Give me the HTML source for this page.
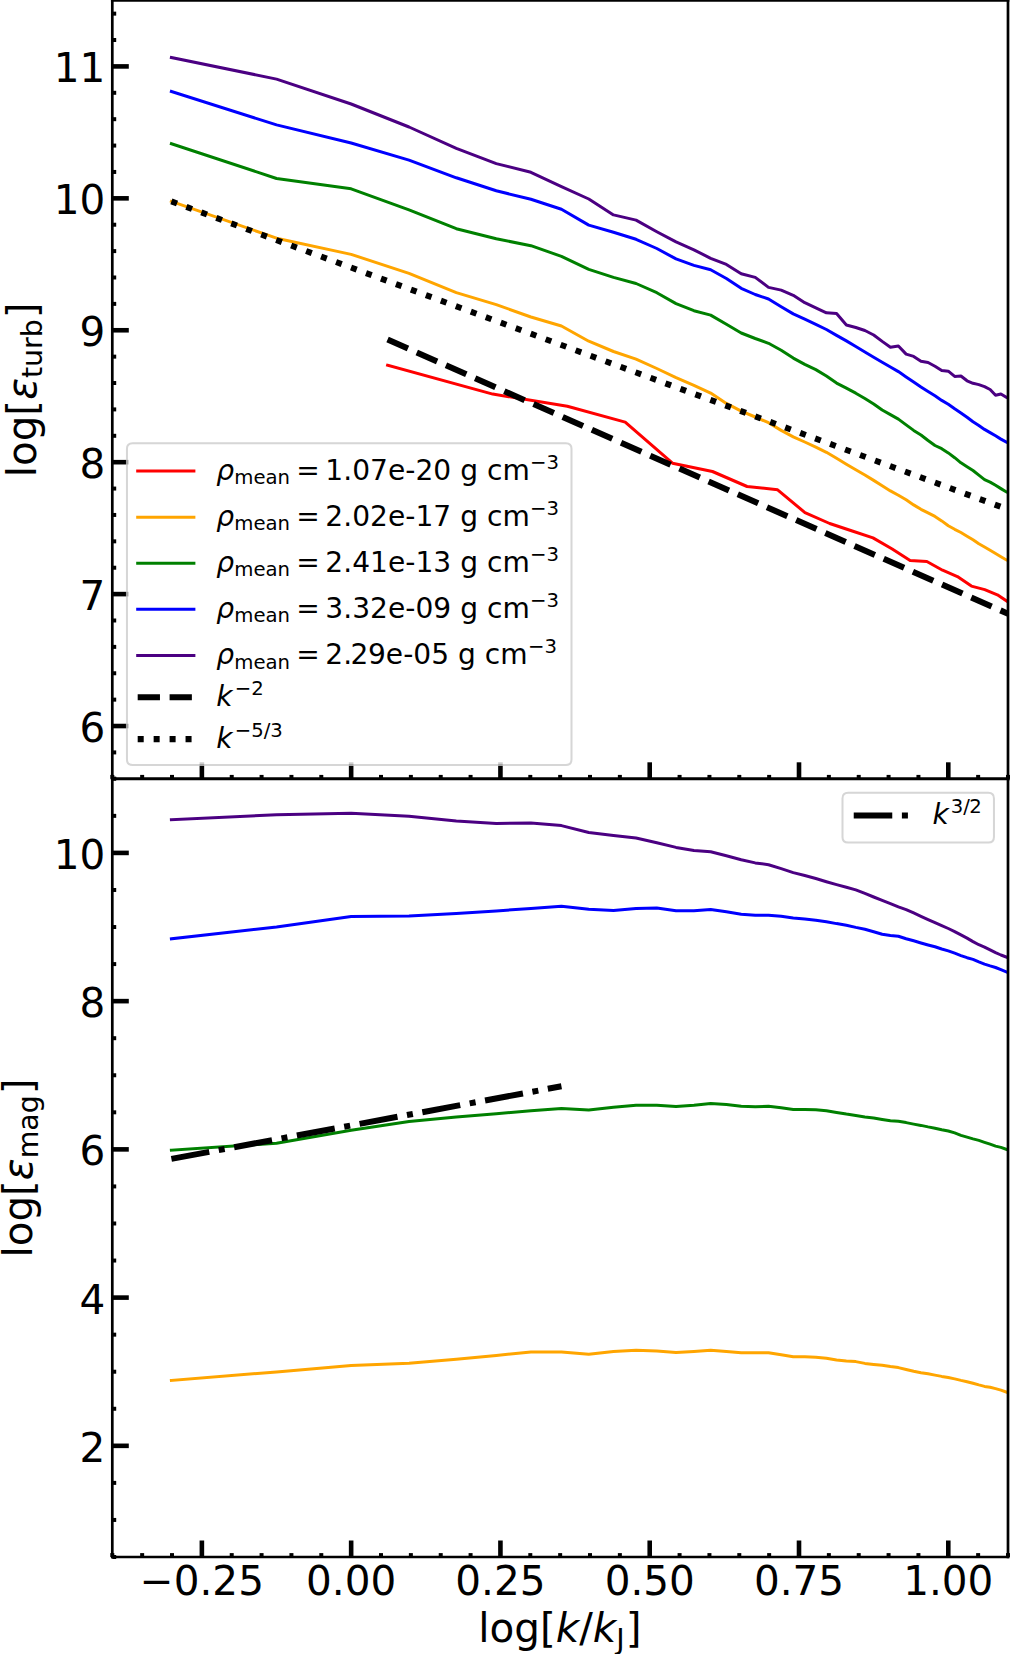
<!DOCTYPE html>
<html><head><meta charset="utf-8"><title>plot</title>
<style>html,body{margin:0;padding:0;background:#fff;width:1010px;height:1654px;overflow:hidden}svg{display:block}</style>
</head><body>
<svg width="1010" height="1654" viewBox="0 0 727.2 1190.88" version="1.1">
 <defs>
  <style type="text/css">*{stroke-linejoin: round; stroke-linecap: butt}</style>
 </defs>
 <g id="figure_1">
  <g id="patch_1">
   <path d="M 0 1190.88  L 727.2 1190.88  L 727.2 0  L 0 0  z " style="fill: #ffffff" />
  </g>
  <g id="axes_1">
   <g id="patch_2">
    <path d="M 80.856 560.736  L 725.76 560.736  L 725.76 0.324  L 80.856 0.324  z " style="fill: #ffffff" />
   </g>
   <g id="matplotlib.axis_1">
    <g id="xtick_1">
     <g id="line2d_1">
      <defs>
       <path id="mc1bbd99e53" d="M 0 0  L 0 -11.88  " style="stroke: #000000; stroke-width: 3.312" />
      </defs>
      <g>
       <use href="#mc1bbd99e53" x="145.3464" y="560.736" style="stroke: #000000; stroke-width: 3.312" />
      </g>
     </g>
    </g>
    <g id="xtick_2">
     <g id="line2d_2">
      <g>
       <use href="#mc1bbd99e53" x="252.8304" y="560.736" style="stroke: #000000; stroke-width: 3.312" />
      </g>
     </g>
    </g>
    <g id="xtick_3">
     <g id="line2d_3">
      <g>
       <use href="#mc1bbd99e53" x="360.3144" y="560.736" style="stroke: #000000; stroke-width: 3.312" />
      </g>
     </g>
    </g>
    <g id="xtick_4">
     <g id="line2d_4">
      <g>
       <use href="#mc1bbd99e53" x="467.7984" y="560.736" style="stroke: #000000; stroke-width: 3.312" />
      </g>
     </g>
    </g>
    <g id="xtick_5">
     <g id="line2d_5">
      <g>
       <use href="#mc1bbd99e53" x="575.2824" y="560.736" style="stroke: #000000; stroke-width: 3.312" />
      </g>
     </g>
    </g>
    <g id="xtick_6">
     <g id="line2d_6">
      <g>
       <use href="#mc1bbd99e53" x="682.7664" y="560.736" style="stroke: #000000; stroke-width: 3.312" />
      </g>
     </g>
    </g>
    <g id="xtick_7">
     <g id="line2d_7">
      <defs>
       <path id="m98e27bdabb" d="M 0 0  L 0 -2.808  " style="stroke: #000000; stroke-width: 2.88" />
      </defs>
      <g>
       <use href="#m98e27bdabb" x="80.856" y="560.736" style="stroke: #000000; stroke-width: 2.88" />
      </g>
     </g>
    </g>
    <g id="xtick_8">
     <g id="line2d_8">
      <g>
       <use href="#m98e27bdabb" x="102.3528" y="560.736" style="stroke: #000000; stroke-width: 2.88" />
      </g>
     </g>
    </g>
    <g id="xtick_9">
     <g id="line2d_9">
      <g>
       <use href="#m98e27bdabb" x="123.8496" y="560.736" style="stroke: #000000; stroke-width: 2.88" />
      </g>
     </g>
    </g>
    <g id="xtick_10">
     <g id="line2d_10">
      <g>
       <use href="#m98e27bdabb" x="166.8432" y="560.736" style="stroke: #000000; stroke-width: 2.88" />
      </g>
     </g>
    </g>
    <g id="xtick_11">
     <g id="line2d_11">
      <g>
       <use href="#m98e27bdabb" x="188.34" y="560.736" style="stroke: #000000; stroke-width: 2.88" />
      </g>
     </g>
    </g>
    <g id="xtick_12">
     <g id="line2d_12">
      <g>
       <use href="#m98e27bdabb" x="209.8368" y="560.736" style="stroke: #000000; stroke-width: 2.88" />
      </g>
     </g>
    </g>
    <g id="xtick_13">
     <g id="line2d_13">
      <g>
       <use href="#m98e27bdabb" x="231.3336" y="560.736" style="stroke: #000000; stroke-width: 2.88" />
      </g>
     </g>
    </g>
    <g id="xtick_14">
     <g id="line2d_14">
      <g>
       <use href="#m98e27bdabb" x="274.3272" y="560.736" style="stroke: #000000; stroke-width: 2.88" />
      </g>
     </g>
    </g>
    <g id="xtick_15">
     <g id="line2d_15">
      <g>
       <use href="#m98e27bdabb" x="295.824" y="560.736" style="stroke: #000000; stroke-width: 2.88" />
      </g>
     </g>
    </g>
    <g id="xtick_16">
     <g id="line2d_16">
      <g>
       <use href="#m98e27bdabb" x="317.3208" y="560.736" style="stroke: #000000; stroke-width: 2.88" />
      </g>
     </g>
    </g>
    <g id="xtick_17">
     <g id="line2d_17">
      <g>
       <use href="#m98e27bdabb" x="338.8176" y="560.736" style="stroke: #000000; stroke-width: 2.88" />
      </g>
     </g>
    </g>
    <g id="xtick_18">
     <g id="line2d_18">
      <g>
       <use href="#m98e27bdabb" x="381.8112" y="560.736" style="stroke: #000000; stroke-width: 2.88" />
      </g>
     </g>
    </g>
    <g id="xtick_19">
     <g id="line2d_19">
      <g>
       <use href="#m98e27bdabb" x="403.308" y="560.736" style="stroke: #000000; stroke-width: 2.88" />
      </g>
     </g>
    </g>
    <g id="xtick_20">
     <g id="line2d_20">
      <g>
       <use href="#m98e27bdabb" x="424.8048" y="560.736" style="stroke: #000000; stroke-width: 2.88" />
      </g>
     </g>
    </g>
    <g id="xtick_21">
     <g id="line2d_21">
      <g>
       <use href="#m98e27bdabb" x="446.3016" y="560.736" style="stroke: #000000; stroke-width: 2.88" />
      </g>
     </g>
    </g>
    <g id="xtick_22">
     <g id="line2d_22">
      <g>
       <use href="#m98e27bdabb" x="489.2952" y="560.736" style="stroke: #000000; stroke-width: 2.88" />
      </g>
     </g>
    </g>
    <g id="xtick_23">
     <g id="line2d_23">
      <g>
       <use href="#m98e27bdabb" x="510.792" y="560.736" style="stroke: #000000; stroke-width: 2.88" />
      </g>
     </g>
    </g>
    <g id="xtick_24">
     <g id="line2d_24">
      <g>
       <use href="#m98e27bdabb" x="532.2888" y="560.736" style="stroke: #000000; stroke-width: 2.88" />
      </g>
     </g>
    </g>
    <g id="xtick_25">
     <g id="line2d_25">
      <g>
       <use href="#m98e27bdabb" x="553.7856" y="560.736" style="stroke: #000000; stroke-width: 2.88" />
      </g>
     </g>
    </g>
    <g id="xtick_26">
     <g id="line2d_26">
      <g>
       <use href="#m98e27bdabb" x="596.7792" y="560.736" style="stroke: #000000; stroke-width: 2.88" />
      </g>
     </g>
    </g>
    <g id="xtick_27">
     <g id="line2d_27">
      <g>
       <use href="#m98e27bdabb" x="618.276" y="560.736" style="stroke: #000000; stroke-width: 2.88" />
      </g>
     </g>
    </g>
    <g id="xtick_28">
     <g id="line2d_28">
      <g>
       <use href="#m98e27bdabb" x="639.7728" y="560.736" style="stroke: #000000; stroke-width: 2.88" />
      </g>
     </g>
    </g>
    <g id="xtick_29">
     <g id="line2d_29">
      <g>
       <use href="#m98e27bdabb" x="661.2696" y="560.736" style="stroke: #000000; stroke-width: 2.88" />
      </g>
     </g>
    </g>
    <g id="xtick_30">
     <g id="line2d_30">
      <g>
       <use href="#m98e27bdabb" x="704.2632" y="560.736" style="stroke: #000000; stroke-width: 2.88" />
      </g>
     </g>
    </g>
    <g id="xtick_31">
     <g id="line2d_31">
      <g>
       <use href="#m98e27bdabb" x="725.76" y="560.736" style="stroke: #000000; stroke-width: 2.88" />
      </g>
     </g>
    </g>
   </g>
   <g id="matplotlib.axis_2">
    <g id="ytick_1">
     <g id="line2d_32">
      <defs>
       <path id="m654e0ca924" d="M 0 0  L 11.88 0  " style="stroke: #000000; stroke-width: 3.312" />
      </defs>
      <g>
       <use href="#m654e0ca924" x="80.856" y="522.741966" style="stroke: #000000; stroke-width: 3.312" />
      </g>
     </g>
     <g id="text_1" transform="translate(0 0.504)">
      <text style="font-size: 29.16px; font-family: 'DejaVu Sans', sans-serif; text-anchor: end" x="75.816" y="533.820488" transform="rotate(-0 75.816 533.820488)">6</text>
     </g>
    </g>
    <g id="ytick_2">
     <g id="line2d_33">
      <g>
       <use href="#m654e0ca924" x="80.856" y="427.756881" style="stroke: #000000; stroke-width: 3.312" />
      </g>
     </g>
     <g id="text_2" transform="translate(0 0.504)">
      <text style="font-size: 29.16px; font-family: 'DejaVu Sans', sans-serif; text-anchor: end" x="75.816" y="438.835403" transform="rotate(-0 75.816 438.835403)">7</text>
     </g>
    </g>
    <g id="ytick_3">
     <g id="line2d_34">
      <g>
       <use href="#m654e0ca924" x="80.856" y="332.771797" style="stroke: #000000; stroke-width: 3.312" />
      </g>
     </g>
     <g id="text_3" transform="translate(0 0.504)">
      <text style="font-size: 29.16px; font-family: 'DejaVu Sans', sans-serif; text-anchor: end" x="75.816" y="343.850318" transform="rotate(-0 75.816 343.850318)">8</text>
     </g>
    </g>
    <g id="ytick_4">
     <g id="line2d_35">
      <g>
       <use href="#m654e0ca924" x="80.856" y="237.786712" style="stroke: #000000; stroke-width: 3.312" />
      </g>
     </g>
     <g id="text_4" transform="translate(0 0.504)">
      <text style="font-size: 29.16px; font-family: 'DejaVu Sans', sans-serif; text-anchor: end" x="75.816" y="248.865234" transform="rotate(-0 75.816 248.865234)">9</text>
     </g>
    </g>
    <g id="ytick_5">
     <g id="line2d_36">
      <g>
       <use href="#m654e0ca924" x="80.856" y="142.801627" style="stroke: #000000; stroke-width: 3.312" />
      </g>
     </g>
     <g id="text_5" transform="translate(0 0.504)">
      <text style="font-size: 29.16px; font-family: 'DejaVu Sans', sans-serif; text-anchor: end" x="75.816" y="153.880149" transform="rotate(-0 75.816 153.880149)">10</text>
     </g>
    </g>
    <g id="ytick_6">
     <g id="line2d_37">
      <g>
       <use href="#m654e0ca924" x="80.856" y="47.816542" style="stroke: #000000; stroke-width: 3.312" />
      </g>
     </g>
     <g id="text_6" transform="translate(0 0.504)">
      <text style="font-size: 29.16px; font-family: 'DejaVu Sans', sans-serif; text-anchor: end" x="75.816" y="58.895064" transform="rotate(-0 75.816 58.895064)">11</text>
     </g>
    </g>
    <g id="ytick_7">
     <g id="line2d_38">
      <defs>
       <path id="m2baaccd107" d="M 0 0  L 2.808 0  " style="stroke: #000000; stroke-width: 2.88" />
      </defs>
      <g>
       <use href="#m2baaccd107" x="80.856" y="560.736" style="stroke: #000000; stroke-width: 2.88" />
      </g>
     </g>
    </g>
    <g id="ytick_8">
     <g id="line2d_39">
      <g>
       <use href="#m2baaccd107" x="80.856" y="541.738983" style="stroke: #000000; stroke-width: 2.88" />
      </g>
     </g>
    </g>
    <g id="ytick_9">
     <g id="line2d_40">
      <g>
       <use href="#m2baaccd107" x="80.856" y="503.744949" style="stroke: #000000; stroke-width: 2.88" />
      </g>
     </g>
    </g>
    <g id="ytick_10">
     <g id="line2d_41">
      <g>
       <use href="#m2baaccd107" x="80.856" y="484.747932" style="stroke: #000000; stroke-width: 2.88" />
      </g>
     </g>
    </g>
    <g id="ytick_11">
     <g id="line2d_42">
      <g>
       <use href="#m2baaccd107" x="80.856" y="465.750915" style="stroke: #000000; stroke-width: 2.88" />
      </g>
     </g>
    </g>
    <g id="ytick_12">
     <g id="line2d_43">
      <g>
       <use href="#m2baaccd107" x="80.856" y="446.753898" style="stroke: #000000; stroke-width: 2.88" />
      </g>
     </g>
    </g>
    <g id="ytick_13">
     <g id="line2d_44">
      <g>
       <use href="#m2baaccd107" x="80.856" y="408.759864" style="stroke: #000000; stroke-width: 2.88" />
      </g>
     </g>
    </g>
    <g id="ytick_14">
     <g id="line2d_45">
      <g>
       <use href="#m2baaccd107" x="80.856" y="389.762847" style="stroke: #000000; stroke-width: 2.88" />
      </g>
     </g>
    </g>
    <g id="ytick_15">
     <g id="line2d_46">
      <g>
       <use href="#m2baaccd107" x="80.856" y="370.765831" style="stroke: #000000; stroke-width: 2.88" />
      </g>
     </g>
    </g>
    <g id="ytick_16">
     <g id="line2d_47">
      <g>
       <use href="#m2baaccd107" x="80.856" y="351.768814" style="stroke: #000000; stroke-width: 2.88" />
      </g>
     </g>
    </g>
    <g id="ytick_17">
     <g id="line2d_48">
      <g>
       <use href="#m2baaccd107" x="80.856" y="313.77478" style="stroke: #000000; stroke-width: 2.88" />
      </g>
     </g>
    </g>
    <g id="ytick_18">
     <g id="line2d_49">
      <g>
       <use href="#m2baaccd107" x="80.856" y="294.777763" style="stroke: #000000; stroke-width: 2.88" />
      </g>
     </g>
    </g>
    <g id="ytick_19">
     <g id="line2d_50">
      <g>
       <use href="#m2baaccd107" x="80.856" y="275.780746" style="stroke: #000000; stroke-width: 2.88" />
      </g>
     </g>
    </g>
    <g id="ytick_20">
     <g id="line2d_51">
      <g>
       <use href="#m2baaccd107" x="80.856" y="256.783729" style="stroke: #000000; stroke-width: 2.88" />
      </g>
     </g>
    </g>
    <g id="ytick_21">
     <g id="line2d_52">
      <g>
       <use href="#m2baaccd107" x="80.856" y="218.789695" style="stroke: #000000; stroke-width: 2.88" />
      </g>
     </g>
    </g>
    <g id="ytick_22">
     <g id="line2d_53">
      <g>
       <use href="#m2baaccd107" x="80.856" y="199.792678" style="stroke: #000000; stroke-width: 2.88" />
      </g>
     </g>
    </g>
    <g id="ytick_23">
     <g id="line2d_54">
      <g>
       <use href="#m2baaccd107" x="80.856" y="180.795661" style="stroke: #000000; stroke-width: 2.88" />
      </g>
     </g>
    </g>
    <g id="ytick_24">
     <g id="line2d_55">
      <g>
       <use href="#m2baaccd107" x="80.856" y="161.798644" style="stroke: #000000; stroke-width: 2.88" />
      </g>
     </g>
    </g>
    <g id="ytick_25">
     <g id="line2d_56">
      <g>
       <use href="#m2baaccd107" x="80.856" y="123.80461" style="stroke: #000000; stroke-width: 2.88" />
      </g>
     </g>
    </g>
    <g id="ytick_26">
     <g id="line2d_57">
      <g>
       <use href="#m2baaccd107" x="80.856" y="104.807593" style="stroke: #000000; stroke-width: 2.88" />
      </g>
     </g>
    </g>
    <g id="ytick_27">
     <g id="line2d_58">
      <g>
       <use href="#m2baaccd107" x="80.856" y="85.810576" style="stroke: #000000; stroke-width: 2.88" />
      </g>
     </g>
    </g>
    <g id="ytick_28">
     <g id="line2d_59">
      <g>
       <use href="#m2baaccd107" x="80.856" y="66.813559" style="stroke: #000000; stroke-width: 2.88" />
      </g>
     </g>
    </g>
    <g id="ytick_29">
     <g id="line2d_60">
      <g>
       <use href="#m2baaccd107" x="80.856" y="28.819525" style="stroke: #000000; stroke-width: 2.88" />
      </g>
     </g>
    </g>
    <g id="ytick_30">
     <g id="line2d_61">
      <g>
       <use href="#m2baaccd107" x="80.856" y="9.822508" style="stroke: #000000; stroke-width: 2.88" />
      </g>
     </g>
    </g>
    <g id="text_7">
     
     <g transform="translate(26.5703 343.6614) rotate(-90)">
      <text><tspan x="0 8.092 25.911 44.399" y="-0.96875" style="font-size: 29.16px; font-family: 'DejaVu Sans', sans-serif">log[</tspan><tspan x="55.761" y="-0.96875" style="font-style: oblique; font-size: 29.16px; font-family: 'DejaVu Sans', sans-serif">ε</tspan><tspan x="71.504 79.498 92.419 100.801" y="3.789062" style="font-size: 20.412px; font-family: 'DejaVu Sans', sans-serif">turb</tspan><tspan x="114.535" y="-0.96875" style="font-size: 29.16px; font-family: 'DejaVu Sans', sans-serif">]</tspan></text>
     </g>
    </g>
   </g>
   <g id="line2d_62">
    <path d="M 279.056496 263.016  L 354.764468 283.752  L 408.480128 292.536  L 450.145232 303.912  L 484.1881 333.504  L 512.970935 339.48  L 537.90376 350.28  L 559.896071 352.656  L 579.568864 369.072  L 597.365069 376.92  L 613.611732 382.32  L 628.557213 387.288  L 642.394567 395.28  L 655.276835 403.488  L 667.327393 404.28  L 678.647151 410.544  L 689.319704 415.152  L 699.415072 421.992  L 708.992496 424.512  L 718.102538 428.256  L 726.788701 434.016  " clip-path="url(#p21c966a8d2)" style="fill: none; stroke: #ff0000; stroke-width: 2.16; stroke-linecap: square" />
   </g>
   <g id="line2d_63">
    <path d="M 123.406768 145.008  L 199.114739 171.504  L 252.8304 183.168  L 294.495503 196.848  L 328.538372 210.672  L 357.321206 219.312  L 382.254032 228.24  L 404.246343 234.72  L 423.919136 245.664  L 441.715341 253.08  L 457.962004 258.552  L 472.907485 265.32  L 486.744839 271.872  L 499.627107 277.416  L 511.677664 283.032  L 522.997423 290.448  L 533.669975 295.992  L 543.765344 300.24  L 553.342768 304.344  L 562.45281 309.888  L 571.138973 314.496  L 579.438954 318.24  L 587.385636 321.912  L 595.007871 325.656  L 602.331117 329.976  L 609.377947 334.224  L 616.168471 338.184  L 622.720681 342  L 629.050739 345.888  L 635.173217 349.704  L 641.101297 353.448  L 646.846945 356.544  L 652.421055 359.856  L 657.833574 363.528  L 663.093608 366.696  L 668.209512 369.288  L 673.188976 371.808  L 678.039088 375.048  L 682.7664 378.504  L 687.376976 381.096  L 691.876442 383.4  L 696.270029 386.064  L 700.562605 388.656  L 704.758711 391.536  L 708.862587 393.84  L 712.8782 396.216  L 716.809268 398.52  L 720.659277 400.824  L 724.431503 403.056  " clip-path="url(#p21c966a8d2)" style="fill: none; stroke: #ffa500; stroke-width: 2.16; stroke-linecap: square" />
   </g>
   <g id="line2d_64">
    <path d="M 123.406768 103.464  L 199.114739 128.52  L 252.8304 135.936  L 294.495503 151.056  L 328.538372 164.664  L 357.321206 171.936  L 382.254032 176.904  L 404.246343 184.536  L 423.919136 193.968  L 441.715341 199.728  L 457.962004 204.12  L 472.907485 210.744  L 486.744839 218.592  L 499.627107 223.704  L 511.677664 226.872  L 522.997423 233.496  L 533.669975 239.76  L 543.765344 243.72  L 553.342768 247.176  L 562.45281 252.216  L 571.138973 257.832  L 579.438954 262.368  L 587.385636 266.112  L 595.007871 270.72  L 602.331117 275.832  L 609.377947 279.504  L 616.168471 283.104  L 622.720681 286.92  L 629.050739 290.88  L 635.173217 295.2  L 641.101297 298.512  L 646.846945 301.752  L 652.421055 305.928  L 657.833574 309.888  L 663.093608 313.2  L 668.209512 317.16  L 673.188976 320.76  L 678.039088 323.064  L 682.7664 326.088  L 687.376976 329.544  L 691.876442 333.216  L 696.270029 336.024  L 700.562605 338.76  L 704.758711 342.072  L 708.862587 345.312  L 712.8782 347.112  L 716.809268 349.416  L 720.659277 351.792  L 724.431503 354.096  " clip-path="url(#p21c966a8d2)" style="fill: none; stroke: #008000; stroke-width: 2.16; stroke-linecap: square" />
   </g>
   <g id="line2d_65">
    <path d="M 123.406768 65.88  L 199.114739 89.928  L 252.8304 102.96  L 294.495503 115.272  L 328.538372 128.016  L 357.321206 137.376  L 382.254032 143.496  L 404.246343 150.624  L 423.919136 162.072  L 441.715341 167.256  L 457.962004 172.296  L 472.907485 178.92  L 486.744839 186.408  L 499.627107 191.088  L 511.677664 194.256  L 522.997423 200.52  L 533.669975 207.576  L 543.765344 212.04  L 553.342768 215.28  L 562.45281 220.824  L 571.138973 226.008  L 579.438954 229.752  L 587.385636 233.496  L 595.007871 237.24  L 602.331117 241.488  L 609.377947 245.448  L 616.168471 249.48  L 622.720681 253.44  L 629.050739 257.256  L 635.173217 260.856  L 641.101297 264.24  L 646.846945 267.552  L 652.421055 271.368  L 657.833574 275.04  L 663.093608 278.64  L 668.209512 281.88  L 673.188976 284.976  L 678.039088 288.288  L 682.7664 291.096  L 687.376976 294.336  L 691.876442 297.288  L 696.270029 300.384  L 700.562605 303.624  L 704.758711 306.36  L 708.862587 309.168  L 712.8782 311.472  L 716.809268 313.776  L 720.659277 316.152  L 724.431503 318.24  " clip-path="url(#p21c966a8d2)" style="fill: none; stroke: #0000ff; stroke-width: 2.16; stroke-linecap: square" />
   </g>
   <g id="line2d_66">
    <path d="M 123.406768 41.4  L 199.114739 56.952  L 252.8304 74.88  L 294.495503 91.44  L 328.538372 106.848  L 357.321206 117.792  L 382.254032 124.056  L 404.246343 134.352  L 423.919136 143.28  L 441.715341 154.728  L 457.962004 158.472  L 472.907485 166.824  L 486.744839 174.168  L 499.627107 179.856  L 511.677664 185.976  L 522.997423 190.368  L 533.669975 197.064  L 543.765344 199.728  L 553.342768 206.928  L 562.45281 208.872  L 571.138973 212.616  L 579.438954 217.944  L 587.385636 221.688  L 595.007871 225.216  L 602.331117 225.792  L 609.377947 234  L 616.168471 235.8  L 622.720681 237.96  L 629.050739 241.2  L 635.173217 245.808  L 641.101297 250.056  L 646.846945 249.12  L 652.421055 254.952  L 657.833574 256.608  L 663.093608 260.064  L 668.209512 261  L 673.188976 263.736  L 678.039088 266.832  L 682.7664 267.264  L 687.376976 271.008  L 691.876442 270.72  L 696.270029 274.176  L 700.562605 275.976  L 704.758711 276.912  L 708.862587 278.424  L 712.8782 280.44  L 716.809268 284.616  L 720.659277 283.68  L 724.431503 285.984  " clip-path="url(#p21c966a8d2)" style="fill: none; stroke: #4b0082; stroke-width: 2.16; stroke-linecap: square" />
   </g>
   <g id="line2d_67">
    <path d="M 279.056496 244.493908  L 728.2 442.951045  " clip-path="url(#p21c966a8d2)" style="fill: none; stroke-dasharray: 16.03728,6.93504; stroke-dashoffset: 0; stroke: #000000; stroke-width: 4.3344" />
   </g>
   <g id="line2d_68">
    <path d="M 123.406768 145.008  L 728.2 367.701364  " clip-path="url(#p21c966a8d2)" style="fill: none; stroke-dasharray: 4.3344,7.15176; stroke-dashoffset: 0; stroke: #000000; stroke-width: 4.3344" />
   </g>
   <g id="patch_3">
    <path d="M 80.856 560.736  L 80.856 0.324  " style="fill: none; stroke: #000000; stroke-width: 1.944; stroke-linejoin: miter; stroke-linecap: square" />
   </g>
   <g id="patch_4">
    <path d="M 725.76 560.736  L 725.76 0.324  " style="fill: none; stroke: #000000; stroke-width: 1.944; stroke-linejoin: miter; stroke-linecap: square" />
   </g>
   <g id="patch_5">
    <path d="M 80.856 560.736  L 725.76 560.736  " style="fill: none; stroke: #000000; stroke-width: 1.944; stroke-linejoin: miter; stroke-linecap: square" />
   </g>
   <g id="patch_6">
    <path d="M 80.856 0.324  L 725.76 0.324  " style="fill: none; stroke: #000000; stroke-width: 1.944; stroke-linejoin: miter; stroke-linecap: square" />
   </g>
   <g id="legend_1">
    <g id="patch_7">
     <path d="M 95.4504 550.836  L 407.42784 550.836  Q 411.47424 550.836 411.47424 546.7896  L 411.47424 323.112195  Q 411.47424 319.065795 407.42784 319.065795  L 95.4504 319.065795  Q 91.404 319.065795 91.404 323.112195  L 91.404 546.7896  Q 91.404 550.836 95.4504 550.836  z " style="fill: #ffffff; opacity: 0.8; stroke: #cccccc; stroke-width: 1.44; stroke-linejoin: miter" />
    </g>
    <g transform="translate(-0.360 0.720)"><g id="line2d_69">
     <path d="M 99.4968 338.488515  L 119.7288 338.488515  L 139.9608 338.488515  " style="fill: none; stroke: #ff0000; stroke-width: 2.16; stroke-linecap: square" />
    </g>
    <g id="text_8">
     
     <g transform="translate(156.1464 345.569715)">
      <text><tspan x="0" y="-0.953125" style="font-style: oblique; font-size: 20.232px; font-family: 'DejaVu Sans', sans-serif">ρ</tspan><tspan x="12.854 26.662 35.383 44.069" y="2.328125" style="font-size: 14.1624px; font-family: 'DejaVu Sans', sans-serif">mean</tspan><tspan x="57.545 78.458 91.342 97.779 110.662 123.546 136.004 143.311 156.195 169.079 175.516 188.37 194.806 205.94" y="-0.953125" style="font-size: 20.232px; font-family: 'DejaVu Sans', sans-serif">=1.07e-20 g cm</tspan><tspan x="225.857 237.734" y="-8.609375" style="font-size: 14.1624px; font-family: 'DejaVu Sans', sans-serif">−3</tspan></text>
     </g>
    </g>
    <g id="line2d_70">
     <path d="M 99.4968 371.668995  L 119.7288 371.668995  L 139.9608 371.668995  " style="fill: none; stroke: #ffa500; stroke-width: 2.16; stroke-linecap: square" />
    </g>
    <g id="text_9">
     
     <g transform="translate(156.1464 378.750195)">
      <text><tspan x="0" y="-0.953125" style="font-style: oblique; font-size: 20.232px; font-family: 'DejaVu Sans', sans-serif">ρ</tspan><tspan x="12.854 26.662 35.383 44.069" y="2.328125" style="font-size: 14.1624px; font-family: 'DejaVu Sans', sans-serif">mean</tspan><tspan x="57.545 78.458 91.342 97.779 110.662 123.546 136.004 143.311 156.195 169.079 175.516 188.37 194.806 205.94" y="-0.953125" style="font-size: 20.232px; font-family: 'DejaVu Sans', sans-serif">=2.02e-17 g cm</tspan><tspan x="225.857 237.734" y="-8.609375" style="font-size: 14.1624px; font-family: 'DejaVu Sans', sans-serif">−3</tspan></text>
     </g>
    </g>
    <g id="line2d_71">
     <path d="M 99.4968 404.849475  L 119.7288 404.849475  L 139.9608 404.849475  " style="fill: none; stroke: #008000; stroke-width: 2.16; stroke-linecap: square" />
    </g>
    <g id="text_10">
     
     <g transform="translate(156.1464 411.930675)">
      <text><tspan x="0" y="-0.953125" style="font-style: oblique; font-size: 20.232px; font-family: 'DejaVu Sans', sans-serif">ρ</tspan><tspan x="12.854 26.662 35.383 44.069" y="2.328125" style="font-size: 14.1624px; font-family: 'DejaVu Sans', sans-serif">mean</tspan><tspan x="57.545 78.458 91.342 97.779 110.662 123.546 136.004 143.311 156.195 169.079 175.516 188.37 194.806 205.94" y="-0.953125" style="font-size: 20.232px; font-family: 'DejaVu Sans', sans-serif">=2.41e-13 g cm</tspan><tspan x="225.857 237.734" y="-8.609375" style="font-size: 14.1624px; font-family: 'DejaVu Sans', sans-serif">−3</tspan></text>
     </g>
    </g>
    <g id="line2d_72">
     <path d="M 99.4968 438.029955  L 119.7288 438.029955  L 139.9608 438.029955  " style="fill: none; stroke: #0000ff; stroke-width: 2.16; stroke-linecap: square" />
    </g>
    <g id="text_11">
     
     <g transform="translate(156.1464 445.111155)">
      <text><tspan x="0" y="-0.953125" style="font-style: oblique; font-size: 20.232px; font-family: 'DejaVu Sans', sans-serif">ρ</tspan><tspan x="12.854 26.662 35.383 44.069" y="2.328125" style="font-size: 14.1624px; font-family: 'DejaVu Sans', sans-serif">mean</tspan><tspan x="57.545 78.458 91.342 97.779 110.662 123.546 136.004 143.311 156.195 169.079 175.516 188.37 194.806 205.94" y="-0.953125" style="font-size: 20.232px; font-family: 'DejaVu Sans', sans-serif">=3.32e-09 g cm</tspan><tspan x="225.857 237.734" y="-8.609375" style="font-size: 14.1624px; font-family: 'DejaVu Sans', sans-serif">−3</tspan></text>
     </g>
    </g>
    <g id="line2d_73">
     <path d="M 99.4968 471.210435  L 119.7288 471.210435  L 139.9608 471.210435  " style="fill: none; stroke: #4b0082; stroke-width: 2.16; stroke-linecap: square" />
    </g>
    <g id="text_12">
     
     <g transform="translate(156.1464 478.291635)">
      <text><tspan x="0" y="-0.953125" style="font-style: oblique; font-size: 20.232px; font-family: 'DejaVu Sans', sans-serif">ρ</tspan><tspan x="12.854 26.662 35.383 44.069" y="2.328125" style="font-size: 14.1624px; font-family: 'DejaVu Sans', sans-serif">mean</tspan><tspan x="57.545 78.458 91.342 96.654 109.162 122.046 134.504 141.811 154.695 167.579 174.016 186.87 193.306 204.44" y="-0.953125" style="font-size: 20.232px; font-family: 'DejaVu Sans', sans-serif">=2.29e-05 g cm</tspan><tspan x="224.357 236.234" y="-8.609375" style="font-size: 14.1624px; font-family: 'DejaVu Sans', sans-serif">−3</tspan></text>
     </g>
    </g>
    <g id="line2d_74">
     <path d="M 99.4968 501.352954  L 119.7288 501.352954  L 139.9608 501.352954  " style="fill: none; stroke-dasharray: 16.03728,6.93504; stroke-dashoffset: 0; stroke: #000000; stroke-width: 4.3344" />
    </g>
    <g id="text_13">
     
     <g transform="translate(156.1464 508.434154)">
      <text><tspan x="0" y="-0.953125" style="font-style: oblique; font-size: 20.232px; font-family: 'DejaVu Sans', sans-serif">k</tspan><tspan x="13.217 25.094" y="-8.609375" style="font-size: 14.1624px; font-family: 'DejaVu Sans', sans-serif">−2</tspan></text>
     </g>
    </g>
    <g id="line2d_75">
     <path d="M 99.4968 531.454376  L 119.7288 531.454376  L 139.9608 531.454376  " style="fill: none; stroke-dasharray: 4.3344,7.15176; stroke-dashoffset: 0; stroke: #000000; stroke-width: 4.3344" />
    </g>
    <g id="text_14">
     
     <g transform="translate(156.1464 538.535576)">
      <text><tspan x="0" y="-0.953125" style="font-style: oblique; font-size: 20.232px; font-family: 'DejaVu Sans', sans-serif">k</tspan><tspan x="13.217 25.094 34.113 38.889" y="-8.609375" style="font-size: 14.1624px; font-family: 'DejaVu Sans', sans-serif">−5/3</tspan></text>
     </g>
    </g>
   </g></g>
  </g>
  <g id="axes_2">
   <g id="patch_8">
    <path d="M 80.856 1121.04  L 725.76 1121.04  L 725.76 560.736  L 80.856 560.736  z " style="fill: #ffffff" />
   </g>
   <g id="matplotlib.axis_3">
    <g id="xtick_32">
     <g id="line2d_76">
      <g>
       <use href="#mc1bbd99e53" x="145.3464" y="1121.04" style="stroke: #000000; stroke-width: 3.312" />
      </g>
     </g>
     <g id="text_15" transform="translate(0 0.504)">
      <text style="font-size: 29.16px; font-family: 'DejaVu Sans', sans-serif; text-anchor: middle" x="145.3464" y="1148.237044" transform="rotate(-0 145.3464 1148.237044)">−0.25</text>
     </g>
    </g>
    <g id="xtick_33">
     <g id="line2d_77">
      <g>
       <use href="#mc1bbd99e53" x="252.8304" y="1121.04" style="stroke: #000000; stroke-width: 3.312" />
      </g>
     </g>
     <g id="text_16" transform="translate(0 0.504)">
      <text style="font-size: 29.16px; font-family: 'DejaVu Sans', sans-serif; text-anchor: middle" x="252.8304" y="1148.237044" transform="rotate(-0 252.8304 1148.237044)">0.00</text>
     </g>
    </g>
    <g id="xtick_34">
     <g id="line2d_78">
      <g>
       <use href="#mc1bbd99e53" x="360.3144" y="1121.04" style="stroke: #000000; stroke-width: 3.312" />
      </g>
     </g>
     <g id="text_17" transform="translate(0 0.504)">
      <text style="font-size: 29.16px; font-family: 'DejaVu Sans', sans-serif; text-anchor: middle" x="360.3144" y="1148.237044" transform="rotate(-0 360.3144 1148.237044)">0.25</text>
     </g>
    </g>
    <g id="xtick_35">
     <g id="line2d_79">
      <g>
       <use href="#mc1bbd99e53" x="467.7984" y="1121.04" style="stroke: #000000; stroke-width: 3.312" />
      </g>
     </g>
     <g id="text_18" transform="translate(0 0.504)">
      <text style="font-size: 29.16px; font-family: 'DejaVu Sans', sans-serif; text-anchor: middle" x="467.7984" y="1148.237044" transform="rotate(-0 467.7984 1148.237044)">0.50</text>
     </g>
    </g>
    <g id="xtick_36">
     <g id="line2d_80">
      <g>
       <use href="#mc1bbd99e53" x="575.2824" y="1121.04" style="stroke: #000000; stroke-width: 3.312" />
      </g>
     </g>
     <g id="text_19" transform="translate(0 0.504)">
      <text style="font-size: 29.16px; font-family: 'DejaVu Sans', sans-serif; text-anchor: middle" x="575.2824" y="1148.237044" transform="rotate(-0 575.2824 1148.237044)">0.75</text>
     </g>
    </g>
    <g id="xtick_37">
     <g id="line2d_81">
      <g>
       <use href="#mc1bbd99e53" x="682.7664" y="1121.04" style="stroke: #000000; stroke-width: 3.312" />
      </g>
     </g>
     <g id="text_20" transform="translate(0 0.504)">
      <text style="font-size: 29.16px; font-family: 'DejaVu Sans', sans-serif; text-anchor: middle" x="682.7664" y="1148.237044" transform="rotate(-0 682.7664 1148.237044)">1.00</text>
     </g>
    </g>
    <g id="xtick_38">
     <g id="line2d_82">
      <g>
       <use href="#m98e27bdabb" x="80.856" y="1121.04" style="stroke: #000000; stroke-width: 2.88" />
      </g>
     </g>
    </g>
    <g id="xtick_39">
     <g id="line2d_83">
      <g>
       <use href="#m98e27bdabb" x="102.3528" y="1121.04" style="stroke: #000000; stroke-width: 2.88" />
      </g>
     </g>
    </g>
    <g id="xtick_40">
     <g id="line2d_84">
      <g>
       <use href="#m98e27bdabb" x="123.8496" y="1121.04" style="stroke: #000000; stroke-width: 2.88" />
      </g>
     </g>
    </g>
    <g id="xtick_41">
     <g id="line2d_85">
      <g>
       <use href="#m98e27bdabb" x="166.8432" y="1121.04" style="stroke: #000000; stroke-width: 2.88" />
      </g>
     </g>
    </g>
    <g id="xtick_42">
     <g id="line2d_86">
      <g>
       <use href="#m98e27bdabb" x="188.34" y="1121.04" style="stroke: #000000; stroke-width: 2.88" />
      </g>
     </g>
    </g>
    <g id="xtick_43">
     <g id="line2d_87">
      <g>
       <use href="#m98e27bdabb" x="209.8368" y="1121.04" style="stroke: #000000; stroke-width: 2.88" />
      </g>
     </g>
    </g>
    <g id="xtick_44">
     <g id="line2d_88">
      <g>
       <use href="#m98e27bdabb" x="231.3336" y="1121.04" style="stroke: #000000; stroke-width: 2.88" />
      </g>
     </g>
    </g>
    <g id="xtick_45">
     <g id="line2d_89">
      <g>
       <use href="#m98e27bdabb" x="274.3272" y="1121.04" style="stroke: #000000; stroke-width: 2.88" />
      </g>
     </g>
    </g>
    <g id="xtick_46">
     <g id="line2d_90">
      <g>
       <use href="#m98e27bdabb" x="295.824" y="1121.04" style="stroke: #000000; stroke-width: 2.88" />
      </g>
     </g>
    </g>
    <g id="xtick_47">
     <g id="line2d_91">
      <g>
       <use href="#m98e27bdabb" x="317.3208" y="1121.04" style="stroke: #000000; stroke-width: 2.88" />
      </g>
     </g>
    </g>
    <g id="xtick_48">
     <g id="line2d_92">
      <g>
       <use href="#m98e27bdabb" x="338.8176" y="1121.04" style="stroke: #000000; stroke-width: 2.88" />
      </g>
     </g>
    </g>
    <g id="xtick_49">
     <g id="line2d_93">
      <g>
       <use href="#m98e27bdabb" x="381.8112" y="1121.04" style="stroke: #000000; stroke-width: 2.88" />
      </g>
     </g>
    </g>
    <g id="xtick_50">
     <g id="line2d_94">
      <g>
       <use href="#m98e27bdabb" x="403.308" y="1121.04" style="stroke: #000000; stroke-width: 2.88" />
      </g>
     </g>
    </g>
    <g id="xtick_51">
     <g id="line2d_95">
      <g>
       <use href="#m98e27bdabb" x="424.8048" y="1121.04" style="stroke: #000000; stroke-width: 2.88" />
      </g>
     </g>
    </g>
    <g id="xtick_52">
     <g id="line2d_96">
      <g>
       <use href="#m98e27bdabb" x="446.3016" y="1121.04" style="stroke: #000000; stroke-width: 2.88" />
      </g>
     </g>
    </g>
    <g id="xtick_53">
     <g id="line2d_97">
      <g>
       <use href="#m98e27bdabb" x="489.2952" y="1121.04" style="stroke: #000000; stroke-width: 2.88" />
      </g>
     </g>
    </g>
    <g id="xtick_54">
     <g id="line2d_98">
      <g>
       <use href="#m98e27bdabb" x="510.792" y="1121.04" style="stroke: #000000; stroke-width: 2.88" />
      </g>
     </g>
    </g>
    <g id="xtick_55">
     <g id="line2d_99">
      <g>
       <use href="#m98e27bdabb" x="532.2888" y="1121.04" style="stroke: #000000; stroke-width: 2.88" />
      </g>
     </g>
    </g>
    <g id="xtick_56">
     <g id="line2d_100">
      <g>
       <use href="#m98e27bdabb" x="553.7856" y="1121.04" style="stroke: #000000; stroke-width: 2.88" />
      </g>
     </g>
    </g>
    <g id="xtick_57">
     <g id="line2d_101">
      <g>
       <use href="#m98e27bdabb" x="596.7792" y="1121.04" style="stroke: #000000; stroke-width: 2.88" />
      </g>
     </g>
    </g>
    <g id="xtick_58">
     <g id="line2d_102">
      <g>
       <use href="#m98e27bdabb" x="618.276" y="1121.04" style="stroke: #000000; stroke-width: 2.88" />
      </g>
     </g>
    </g>
    <g id="xtick_59">
     <g id="line2d_103">
      <g>
       <use href="#m98e27bdabb" x="639.7728" y="1121.04" style="stroke: #000000; stroke-width: 2.88" />
      </g>
     </g>
    </g>
    <g id="xtick_60">
     <g id="line2d_104">
      <g>
       <use href="#m98e27bdabb" x="661.2696" y="1121.04" style="stroke: #000000; stroke-width: 2.88" />
      </g>
     </g>
    </g>
    <g id="xtick_61">
     <g id="line2d_105">
      <g>
       <use href="#m98e27bdabb" x="704.2632" y="1121.04" style="stroke: #000000; stroke-width: 2.88" />
      </g>
     </g>
    </g>
    <g id="xtick_62">
     <g id="line2d_106">
      <g>
       <use href="#m98e27bdabb" x="725.76" y="1121.04" style="stroke: #000000; stroke-width: 2.88" />
      </g>
     </g>
    </g>
    <g id="text_21">
     
     <g transform="translate(344.4048 1183.487012)">
      <text><tspan x="0 8.092 25.911 44.399" y="-0.96875" style="font-size: 29.16px; font-family: 'DejaVu Sans', sans-serif">log[</tspan><tspan x="55.761" y="-0.96875" style="font-style: oblique; font-size: 29.16px; font-family: 'DejaVu Sans', sans-serif">k</tspan><tspan x="72.628" y="-0.96875" style="font-size: 29.16px; font-family: 'DejaVu Sans', sans-serif">/</tspan><tspan x="82.44" y="-0.96875" style="font-style: oblique; font-size: 29.16px; font-family: 'DejaVu Sans', sans-serif">k</tspan><tspan x="99.307" y="3.789062" style="font-size: 20.412px; font-family: 'DejaVu Sans', sans-serif">J</tspan><tspan x="106.112" y="-0.96875" style="font-size: 29.16px; font-family: 'DejaVu Sans', sans-serif">]</tspan></text>
     </g>
    </g>
   </g>
   <g id="matplotlib.axis_4">
    <g id="ytick_31">
     <g id="line2d_107">
      <g>
       <use href="#m654e0ca924" x="80.856" y="1040.996571" style="stroke: #000000; stroke-width: 3.312" />
      </g>
     </g>
     <g id="text_22" transform="translate(0 0.504)">
      <text style="font-size: 29.16px; font-family: 'DejaVu Sans', sans-serif; text-anchor: end" x="75.816" y="1052.075093" transform="rotate(-0 75.816 1052.075093)">2</text>
     </g>
    </g>
    <g id="ytick_32">
     <g id="line2d_108">
      <g>
       <use href="#m654e0ca924" x="80.856" y="934.272" style="stroke: #000000; stroke-width: 3.312" />
      </g>
     </g>
     <g id="text_23" transform="translate(0 0.504)">
      <text style="font-size: 29.16px; font-family: 'DejaVu Sans', sans-serif; text-anchor: end" x="75.816" y="945.350522" transform="rotate(-0 75.816 945.350522)">4</text>
     </g>
    </g>
    <g id="ytick_33">
     <g id="line2d_109">
      <g>
       <use href="#m654e0ca924" x="80.856" y="827.547429" style="stroke: #000000; stroke-width: 3.312" />
      </g>
     </g>
     <g id="text_24" transform="translate(0 0.504)">
      <text style="font-size: 29.16px; font-family: 'DejaVu Sans', sans-serif; text-anchor: end" x="75.816" y="838.62595" transform="rotate(-0 75.816 838.62595)">6</text>
     </g>
    </g>
    <g id="ytick_34">
     <g id="line2d_110">
      <g>
       <use href="#m654e0ca924" x="80.856" y="720.822857" style="stroke: #000000; stroke-width: 3.312" />
      </g>
     </g>
     <g id="text_25" transform="translate(0 0.504)">
      <text style="font-size: 29.16px; font-family: 'DejaVu Sans', sans-serif; text-anchor: end" x="75.816" y="731.901379" transform="rotate(-0 75.816 731.901379)">8</text>
     </g>
    </g>
    <g id="ytick_35">
     <g id="line2d_111">
      <g>
       <use href="#m654e0ca924" x="80.856" y="614.098286" style="stroke: #000000; stroke-width: 3.312" />
      </g>
     </g>
     <g id="text_26" transform="translate(0 0.504)">
      <text style="font-size: 29.16px; font-family: 'DejaVu Sans', sans-serif; text-anchor: end" x="75.816" y="625.176808" transform="rotate(-0 75.816 625.176808)">10</text>
     </g>
    </g>
    <g id="ytick_36">
     <g id="line2d_112">
      <g>
       <use href="#m2baaccd107" x="80.856" y="1121.04" style="stroke: #000000; stroke-width: 2.88" />
      </g>
     </g>
    </g>
    <g id="ytick_37">
     <g id="line2d_113">
      <g>
       <use href="#m2baaccd107" x="80.856" y="1094.358857" style="stroke: #000000; stroke-width: 2.88" />
      </g>
     </g>
    </g>
    <g id="ytick_38">
     <g id="line2d_114">
      <g>
       <use href="#m2baaccd107" x="80.856" y="1067.677714" style="stroke: #000000; stroke-width: 2.88" />
      </g>
     </g>
    </g>
    <g id="ytick_39">
     <g id="line2d_115">
      <g>
       <use href="#m2baaccd107" x="80.856" y="1014.315429" style="stroke: #000000; stroke-width: 2.88" />
      </g>
     </g>
    </g>
    <g id="ytick_40">
     <g id="line2d_116">
      <g>
       <use href="#m2baaccd107" x="80.856" y="987.634286" style="stroke: #000000; stroke-width: 2.88" />
      </g>
     </g>
    </g>
    <g id="ytick_41">
     <g id="line2d_117">
      <g>
       <use href="#m2baaccd107" x="80.856" y="960.953143" style="stroke: #000000; stroke-width: 2.88" />
      </g>
     </g>
    </g>
    <g id="ytick_42">
     <g id="line2d_118">
      <g>
       <use href="#m2baaccd107" x="80.856" y="907.590857" style="stroke: #000000; stroke-width: 2.88" />
      </g>
     </g>
    </g>
    <g id="ytick_43">
     <g id="line2d_119">
      <g>
       <use href="#m2baaccd107" x="80.856" y="880.909714" style="stroke: #000000; stroke-width: 2.88" />
      </g>
     </g>
    </g>
    <g id="ytick_44">
     <g id="line2d_120">
      <g>
       <use href="#m2baaccd107" x="80.856" y="854.228571" style="stroke: #000000; stroke-width: 2.88" />
      </g>
     </g>
    </g>
    <g id="ytick_45">
     <g id="line2d_121">
      <g>
       <use href="#m2baaccd107" x="80.856" y="800.866286" style="stroke: #000000; stroke-width: 2.88" />
      </g>
     </g>
    </g>
    <g id="ytick_46">
     <g id="line2d_122">
      <g>
       <use href="#m2baaccd107" x="80.856" y="774.185143" style="stroke: #000000; stroke-width: 2.88" />
      </g>
     </g>
    </g>
    <g id="ytick_47">
     <g id="line2d_123">
      <g>
       <use href="#m2baaccd107" x="80.856" y="747.504" style="stroke: #000000; stroke-width: 2.88" />
      </g>
     </g>
    </g>
    <g id="ytick_48">
     <g id="line2d_124">
      <g>
       <use href="#m2baaccd107" x="80.856" y="694.141714" style="stroke: #000000; stroke-width: 2.88" />
      </g>
     </g>
    </g>
    <g id="ytick_49">
     <g id="line2d_125">
      <g>
       <use href="#m2baaccd107" x="80.856" y="667.460571" style="stroke: #000000; stroke-width: 2.88" />
      </g>
     </g>
    </g>
    <g id="ytick_50">
     <g id="line2d_126">
      <g>
       <use href="#m2baaccd107" x="80.856" y="640.779429" style="stroke: #000000; stroke-width: 2.88" />
      </g>
     </g>
    </g>
    <g id="ytick_51">
     <g id="line2d_127">
      <g>
       <use href="#m2baaccd107" x="80.856" y="587.417143" style="stroke: #000000; stroke-width: 2.88" />
      </g>
     </g>
    </g>
    <g id="ytick_52">
     <g id="line2d_128">
      <g>
       <use href="#m2baaccd107" x="80.856" y="560.736" style="stroke: #000000; stroke-width: 2.88" />
      </g>
     </g>
    </g>
    <g id="text_27">
     
     <g transform="translate(23.6543 905.4774) rotate(-90)">
      <text><tspan x="0 8.092 25.911 44.399" y="-0.96875" style="font-size: 29.16px; font-family: 'DejaVu Sans', sans-serif">log[</tspan><tspan x="55.761" y="-0.96875" style="font-style: oblique; font-size: 29.16px; font-family: 'DejaVu Sans', sans-serif">ε</tspan><tspan x="71.504 91.364 103.857" y="3.789062" style="font-size: 20.412px; font-family: 'DejaVu Sans', sans-serif">mag</tspan><tspan x="117.592" y="-0.96875" style="font-size: 29.16px; font-family: 'DejaVu Sans', sans-serif">]</tspan></text>
     </g>
    </g>
   </g>
   <g id="line2d_129">
    <path d="M 123.406768 993.888  L 199.114739 987.768  L 252.8304 983.088  L 294.495503 981.504  L 328.538372 978.696  L 357.321206 975.888  L 382.254032 973.512  L 404.246343 973.512  L 423.919136 975.024  L 441.715341 973.152  L 457.962004 972.216  L 472.907485 972.72  L 486.744839 973.728  L 499.627107 973.008  L 511.677664 972.144  L 522.997423 973.008  L 533.669975 974.016  L 543.765344 974.016  L 553.342768 974.016  L 562.45281 975.456  L 571.138973 976.896  L 579.438954 976.896  L 587.385636 977.184  L 595.007871 977.976  L 602.331117 979.272  L 609.377947 979.92  L 616.168471 980.352  L 622.720681 981.648  L 629.050739 982.368  L 635.173217 983.016  L 641.101297 983.952  L 646.846945 984.672  L 652.421055 986.04  L 657.833574 987.336  L 663.093608 988.344  L 668.209512 989.136  L 673.188976 990.072  L 678.039088 991.008  L 682.7664 991.8  L 687.376976 992.808  L 691.876442 993.888  L 696.270029 994.824  L 700.562605 995.904  L 704.758711 997.128  L 708.862587 998.208  L 712.8782 998.856  L 716.809268 999.792  L 720.659277 1000.872  L 724.431503 1002.24  " clip-path="url(#p2e68384f7c)" style="fill: none; stroke: #ffa500; stroke-width: 2.16; stroke-linecap: square" />
   </g>
   <g id="line2d_130">
    <path d="M 123.406768 828.144  L 199.114739 823.104  L 252.8304 813.816  L 294.495503 807.48  L 328.538372 804.312  L 357.321206 801.936  L 382.254032 799.704  L 404.246343 798.192  L 423.919136 799.128  L 441.715341 797.256  L 457.962004 795.816  L 472.907485 795.744  L 486.744839 796.752  L 499.627107 795.744  L 511.677664 794.52  L 522.997423 795.24  L 533.669975 796.464  L 543.765344 796.896  L 553.342768 796.464  L 562.45281 797.616  L 571.138973 798.768  L 579.438954 798.768  L 587.385636 799.056  L 595.007871 799.704  L 602.331117 801  L 609.377947 802.152  L 616.168471 803.088  L 622.720681 804.168  L 629.050739 804.888  L 635.173217 805.968  L 641.101297 806.904  L 646.846945 807.336  L 652.421055 808.272  L 657.833574 809.352  L 663.093608 810.288  L 668.209512 811.368  L 673.188976 812.304  L 678.039088 813.384  L 682.7664 814.32  L 687.376976 815.688  L 691.876442 817.488  L 696.270029 818.712  L 700.562605 820.008  L 704.758711 821.088  L 708.862587 822.456  L 712.8782 823.824  L 716.809268 825.192  L 720.659277 826.128  L 724.431503 827.496  " clip-path="url(#p2e68384f7c)" style="fill: none; stroke: #008000; stroke-width: 2.16; stroke-linecap: square" />
   </g>
   <g id="line2d_131">
    <path d="M 123.406768 675.936  L 199.114739 667.44  L 252.8304 659.88  L 294.495503 659.592  L 328.538372 657.72  L 357.321206 655.92  L 382.254032 654.048  L 404.246343 652.536  L 423.919136 654.624  L 441.715341 655.488  L 457.962004 654.048  L 472.907485 653.832  L 486.744839 655.776  L 499.627107 655.776  L 511.677664 654.84  L 522.997423 656.496  L 533.669975 658.224  L 543.765344 658.944  L 553.342768 658.944  L 562.45281 659.736  L 571.138973 660.888  L 579.438954 661.752  L 587.385636 662.544  L 595.007871 663.624  L 602.331117 664.992  L 609.377947 666.144  L 616.168471 667.728  L 622.720681 669.096  L 629.050739 670.824  L 635.173217 672.696  L 641.101297 673.56  L 646.846945 674.064  L 652.421055 675.864  L 657.833574 677.376  L 663.093608 678.96  L 668.209512 680.4  L 673.188976 681.696  L 678.039088 683.28  L 682.7664 684.648  L 687.376976 686.304  L 691.876442 688.032  L 696.270029 689.544  L 700.562605 690.768  L 704.758711 692.568  L 708.862587 694.152  L 712.8782 695.448  L 716.809268 696.6  L 720.659277 698.184  L 724.431503 699.768  " clip-path="url(#p2e68384f7c)" style="fill: none; stroke: #0000ff; stroke-width: 2.16; stroke-linecap: square" />
   </g>
   <g id="line2d_132">
    <path d="M 123.406768 590.256  L 199.114739 586.656  L 252.8304 585.504  L 294.495503 587.736  L 328.538372 591.12  L 357.321206 592.92  L 382.254032 592.56  L 404.246343 594.432  L 423.919136 599.4  L 441.715341 601.488  L 457.962004 603.36  L 472.907485 606.744  L 486.744839 610.128  L 499.627107 612.288  L 511.677664 613.296  L 522.997423 616.104  L 533.669975 618.984  L 543.765344 621.288  L 553.342768 622.584  L 562.45281 625.392  L 571.138973 628.272  L 579.438954 630.36  L 587.385636 632.52  L 595.007871 634.824  L 602.331117 636.912  L 609.377947 638.784  L 616.168471 640.728  L 622.720681 643.248  L 629.050739 645.84  L 635.173217 648.288  L 641.101297 650.592  L 646.846945 652.896  L 652.421055 654.912  L 657.833574 657.288  L 663.093608 659.736  L 668.209512 662.112  L 673.188976 664.344  L 678.039088 666.432  L 682.7664 668.52  L 687.376976 670.752  L 691.876442 673.128  L 696.270029 675.432  L 700.562605 677.952  L 704.758711 680.184  L 708.862587 681.912  L 712.8782 683.928  L 716.809268 685.872  L 720.659277 687.6  L 724.431503 689.04  " clip-path="url(#p2e68384f7c)" style="fill: none; stroke: #4b0082; stroke-width: 2.16; stroke-linecap: square" />
   </g>
   <g id="line2d_133">
    <path d="M 123.406768 834.408  L 404.246343 782.122631  " clip-path="url(#p2e68384f7c)" style="fill: none; stroke-dasharray: 27.74016,6.93504,4.3344,6.93504; stroke-dashoffset: 0; stroke: #000000; stroke-width: 4.3344" />
   </g>
   <g id="patch_9">
    <path d="M 80.856 1121.04  L 80.856 560.736  " style="fill: none; stroke: #000000; stroke-width: 1.944; stroke-linejoin: miter; stroke-linecap: square" />
   </g>
   <g id="patch_10">
    <path d="M 725.76 1121.04  L 725.76 560.736  " style="fill: none; stroke: #000000; stroke-width: 1.944; stroke-linejoin: miter; stroke-linecap: square" />
   </g>
   <g id="patch_11">
    <path d="M 80.856 1121.04  L 725.76 1121.04  " style="fill: none; stroke: #000000; stroke-width: 1.944; stroke-linejoin: miter; stroke-linecap: square" />
   </g>
   <g id="patch_12">
    <path d="M 80.856 560.736  L 725.76 560.736  " style="fill: none; stroke: #000000; stroke-width: 1.944; stroke-linejoin: miter; stroke-linecap: square" />
   </g>
   <g id="legend_2">
    <g id="patch_13">
     <path d="M 610.63992 606.618382  L 711.5976 606.618382  Q 715.644 606.618382 715.644 602.571982  L 715.644 574.8984  Q 715.644 570.852 711.5976 570.852  L 610.63992 570.852  Q 606.59352 570.852 606.59352 574.8984  L 606.59352 602.571982  Q 606.59352 606.618382 610.63992 606.618382  z " style="fill: #ffffff; opacity: 0.8; stroke: #cccccc; stroke-width: 1.44; stroke-linejoin: miter" />
    </g>
    <g id="line2d_134">
     <path d="M 614.68632 587.236759  L 634.91832 587.236759  L 655.15032 587.236759  " style="fill: none; stroke-dasharray: 27.74016,6.93504,4.3344,6.93504; stroke-dashoffset: 0; stroke: #000000; stroke-width: 4.3344" />
    </g>
    <g id="text_28">
     
     <g transform="translate(671.33592 594.317959)">
      <text><tspan x="0" y="-0.953125" style="font-style: oblique; font-size: 20.232px; font-family: 'DejaVu Sans', sans-serif">k</tspan><tspan x="13.217 22.236 26.487" y="-8.609375" style="font-size: 14.1624px; font-family: 'DejaVu Sans', sans-serif">3/2</tspan></text>
     </g>
    </g>
   </g>
  </g>
 </g>
 <defs>
  <clipPath id="p21c966a8d2">
   <rect x="80.856" y="0.324" width="644.904" height="560.412" />
  </clipPath>
  <clipPath id="p2e68384f7c">
   <rect x="80.856" y="560.736" width="644.904" height="560.304" />
  </clipPath>
 </defs>
</svg>
</body></html>
